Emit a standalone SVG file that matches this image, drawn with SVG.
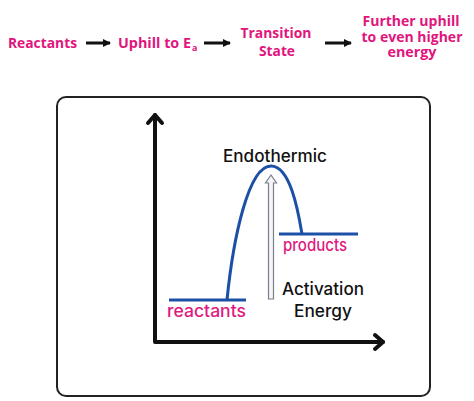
<svg xmlns="http://www.w3.org/2000/svg" width="474" height="401" viewBox="0 0 474 401">
<style>
.top{font-family:"Open Sans","Liberation Sans",sans-serif;font-weight:700;font-size:15px;fill:#E2147D}
.ml{font-size:14px}
.sub{font-size:9px}
.lbl{font-family:Inter,"Open Sans",sans-serif;font-weight:500;font-size:17px;fill:#111}
.pk{font-family:Inter,"Open Sans",sans-serif;font-weight:500;font-size:17px;fill:#DE1A80}
.blk{stroke:#111;stroke-width:3;fill:none}
.axis{stroke:#111;stroke-width:4;fill:none;stroke-linecap:round;stroke-linejoin:round}
.lvl{stroke:#1C4FA6;stroke-width:3;fill:none}
</style>
<defs>
<marker id="ah" markerWidth="8" markerHeight="8" refX="7" refY="4" orient="auto" markerUnits="userSpaceOnUse">
<path d="M0,0 L8,4 L0,8 Z" fill="#111"/>
</marker>
</defs>
<rect width="474" height="401" fill="#fff"/>
<g id="n-reactants"><text class="top" x="8" y="48" textLength="69" lengthAdjust="spacingAndGlyphs">Reactants</text></g>
<g id="n-uphill"><text class="top" x="118" y="48" textLength="73" lengthAdjust="spacingAndGlyphs">Uphill to E</text><text class="top sub" x="192" y="51">a</text></g>
<g id="n-ts"><text class="top ml" x="276" y="38" text-anchor="middle" textLength="71" lengthAdjust="spacingAndGlyphs">Transition</text><text class="top ml" x="277" y="56" text-anchor="middle" textLength="36" lengthAdjust="spacingAndGlyphs">State</text></g>
<g id="n-further"><text class="top ml" x="411" y="26" text-anchor="middle" textLength="97" lengthAdjust="spacingAndGlyphs">Further uphill</text><text class="top ml" x="412" y="42" text-anchor="middle" textLength="101" lengthAdjust="spacingAndGlyphs">to even higher</text><text class="top ml" x="412" y="57" text-anchor="middle" textLength="49" lengthAdjust="spacingAndGlyphs">energy</text></g>
<g id="connectors">
<line class="blk" x1="86" y1="43" x2="110" y2="43" marker-end="url(#ah)"/>
<line class="blk" x1="204" y1="43" x2="230" y2="43" marker-end="url(#ah)"/>
<line class="blk" x1="325" y1="43" x2="351" y2="43" marker-end="url(#ah)"/>
</g>
<g id="chart">
<rect x="57" y="97" width="373" height="299" rx="9" fill="none" stroke="#222" stroke-width="2"/>
<path class="axis" d="M155,115 L155,342 L383,342"/>
<path class="axis" d="M148,123 L155,115 L162,123"/>
<path class="axis" d="M375,335 L383,342 L375,349"/>
<line class="lvl" x1="169" y1="300" x2="246" y2="300"/>
<line class="lvl" x1="279" y1="234" x2="358" y2="234"/>
<path class="lvl" d="M227,300 C233,240 248,166 271,166 C290,166 298,210 302,234"/>
<path d="M268.5,299 L268.5,183 L265.5,183 L271,175 L276.5,183 L273.5,183 L273.5,299 Z" fill="#F3F5FA" stroke="#7A7F88" stroke-width="1.2"/>
<text class="lbl" x="223" y="162" textLength="104" lengthAdjust="spacingAndGlyphs">Endothermic</text>
<text class="pk" x="283" y="251" textLength="64" lengthAdjust="spacingAndGlyphs">products</text>
<text class="pk" x="167" y="317" textLength="79" lengthAdjust="spacingAndGlyphs">reactants</text>
<text class="lbl" x="282" y="295" textLength="82" lengthAdjust="spacingAndGlyphs">Activation</text>
<text class="lbl" x="294" y="317" textLength="58" lengthAdjust="spacingAndGlyphs">Energy</text>
</g>
</svg>
